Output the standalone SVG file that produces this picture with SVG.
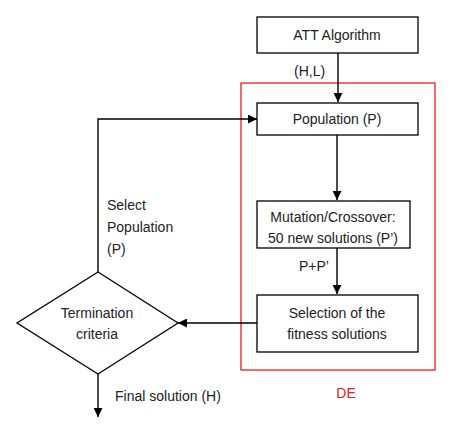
<svg xmlns="http://www.w3.org/2000/svg" width="474" height="440" viewBox="0 0 474 440">
<style>
.box{fill:#fff;stroke:#000;stroke-width:1.3}
.ln{fill:none;stroke:#000;stroke-width:1.4}
text{font-family:"Liberation Sans",Arial,sans-serif;font-size:14px;fill:#222}
.c{text-anchor:middle}
</style>
<defs>
<marker id="ah" viewBox="0 0 10 10" refX="10" refY="5" markerWidth="10" markerHeight="9" markerUnits="userSpaceOnUse" orient="auto">
<path d="M0,0 L10,5 L0,10 z" fill="#000"/>
</marker>
</defs>
<rect x="241" y="83" width="194" height="287" fill="none" stroke="#e32020" stroke-width="1.3"/>
<text x="346" y="398" class="c" style="fill:#e32020">DE</text>
<g id="connectors">
<line class="ln" x1="338" y1="53" x2="338" y2="102" marker-end="url(#ah)"/>
<line class="ln" x1="337" y1="135" x2="337" y2="200" marker-end="url(#ah)"/>
<line class="ln" x1="337" y1="248" x2="337" y2="294" marker-end="url(#ah)"/>
<line class="ln" x1="257" y1="323" x2="178" y2="323" marker-end="url(#ah)"/>
<polyline class="ln" points="98,272 98,119 257,119" marker-end="url(#ah)"/>
<line class="ln" x1="98" y1="374" x2="98" y2="417" marker-end="url(#ah)"/>
<text x="294" y="76">(H,L)</text>
<text x="299" y="271">P+P’</text>
<text x="107" y="210">Select</text>
<text x="107" y="232">Population</text>
<text x="107" y="254">(P)</text>
<text x="115" y="401">Final solution (H)</text>
</g>
<g id="att">
<rect class="box" x="257" y="17" width="161" height="36"/>
<text x="337" y="40" class="c">ATT Algorithm</text>
</g>
<g id="population">
<rect class="box" x="257" y="103" width="161" height="32"/>
<text x="337" y="124" class="c">Population (P)</text>
</g>
<g id="mutation">
<rect class="box" x="257" y="201" width="153" height="47"/>
<text x="333" y="222" class="c">Mutation/Crossover:</text>
<text x="333" y="243" class="c">50 new solutions (P’)</text>
</g>
<g id="selection">
<rect class="box" x="257" y="295" width="161" height="57"/>
<text x="337" y="318" class="c">Selection of the</text>
<text x="337" y="339" class="c">fitness solutions</text>
</g>
<g id="termination">
<polygon class="box" points="98,272 178,323 98,374 17,323"/>
<text x="97" y="318" class="c">Termination</text>
<text x="97" y="339" class="c">criteria</text>
</g>
</svg>
